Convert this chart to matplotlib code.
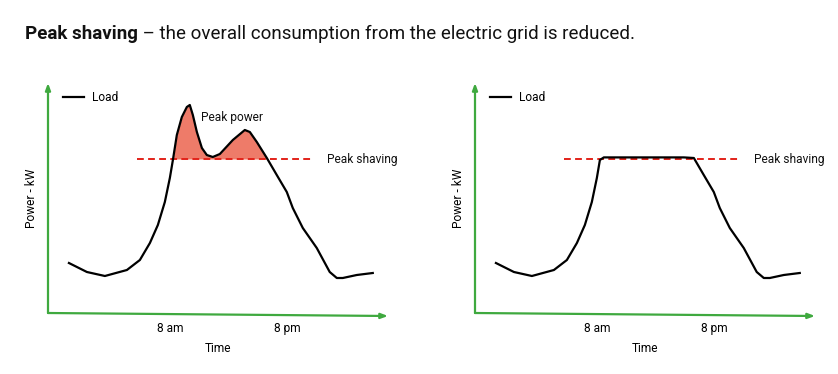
import numpy as np
import matplotlib
matplotlib.use("Agg")
import matplotlib.pyplot as plt

plt.rcParams['font.family'] = ['Roboto', 'DejaVu Sans']

# ---- data ----
time_h = [-2.27, -0.44, 1.39, 3.63, 4.95, 5.97, 6.78, 7.49, 8.00, 8.31, 8.71,
          9.22, 9.73, 10.03, 10.34, 10.75, 11.26, 11.76, 12.37, 13.09, 14.41,
          15.63, 16.14, 16.85, 17.87, 18.88, 19.90, 20.51, 21.53, 22.95, 24.27,
          24.99, 25.60, 27.02, 28.65]
load_kw = [25, 20.5, 18.5, 21.5, 26.5, 35, 44, 55.5, 67.5, 76.5, 89,
           98, 103, 104, 99, 90.5, 82.5, 79, 78, 79.5, 86.5,
           91.5, 90.5, 85.5, 77.5, 69, 60.5, 52.5, 42.5, 32.5, 20.5,
           17.5, 17.5, 19, 20]
shave_level = 77.0
shave_span = [4.64, 22.45]
tick_pos = [8, 20]
tick_labels = ["8 am", "8 pm"]

x = np.array(time_h)
y = np.array(load_kw)

W, H = 838, 374
fig = plt.figure(figsize=(W / 100, H / 100), dpi=100)

GREEN = '#3fa93f'
RED = '#e2231a'
FILL = '#ee7b69'
TXT = '#111111'
FS = 8.6

t1 = fig.text(25 / W, 1 - 34 / H, "Peak shaving", fontsize=13.5, fontweight='bold',
              va='center', ha='left', color=TXT)
fig.canvas.draw()
bb = t1.get_window_extent()
fig.text(bb.x1 / W, 1 - 34 / H,
         " – the overall consumption from the electric grid is reduced.",
         fontsize=13.5, va='center', ha='left', color=TXT)

def panel(left_px, clipped):
    ax = fig.add_axes([left_px / W, 1 - 313 / H, 340 / W, 230 / H])
    ax.set_xlim(-4.4, 30.2)
    ax.set_ylim(0, 115)
    for s in ax.spines.values():
        s.set_visible(False)
    ax.annotate("", xy=(0, 1.0), xytext=(0, 0), xycoords='axes fraction',
                arrowprops=dict(arrowstyle='-|>,head_length=0.4,head_width=0.15',
                                color=GREEN, lw=1.6, shrinkA=0, shrinkB=0),
                annotation_clip=False)
    ax.annotate("", xy=(1.0, -3 / 230), xytext=(0, 0), xycoords='axes fraction',
                arrowprops=dict(arrowstyle='-|>,head_length=0.4,head_width=0.15',
                                color=GREEN, lw=1.6, shrinkA=0, shrinkB=0),
                annotation_clip=False)
    yy = np.minimum(y, shave_level + 0.8) if clipped else y
    if not clipped:
        ax.fill_between(x, y, shave_level, where=y > shave_level, interpolate=True,
                        color=FILL, lw=0, zorder=1)
        ax.text(11.2, (313 - 118) / 2, "Peak power", fontsize=FS, va='center',
                ha='left', color=TXT)
    ax.plot(x, yy, color='black', lw=1.6, label='Load', zorder=3,
            solid_joinstyle='round')
    ax.plot(shave_span, [shave_level, shave_level], color=RED, lw=1.4,
            ls=(0, (3.5, 2.2)), zorder=2)
    ax.text(23.97, shave_level, "Peak shaving", fontsize=FS, va='center',
            ha='left', color=TXT)
    ax.set_xticks(tick_pos)
    ax.set_xticklabels(tick_labels, fontsize=FS)
    ax.tick_params(axis='x', length=0, pad=6.5)
    ax.set_yticks([])
    ax.set_xlabel("Time", fontsize=FS, labelpad=5)
    ax.set_ylabel("Power - kW", fontsize=FS, labelpad=7)
    ax.legend(loc='upper left', bbox_to_anchor=(0.044, 0.965), frameon=False,
              fontsize=FS, handlelength=1.8, handletextpad=0.6, borderpad=0,
              borderaxespad=0)
    return ax

panel(48, False)
panel(475, True)

fig.savefig("out.png", dpi=100, facecolor='white')
